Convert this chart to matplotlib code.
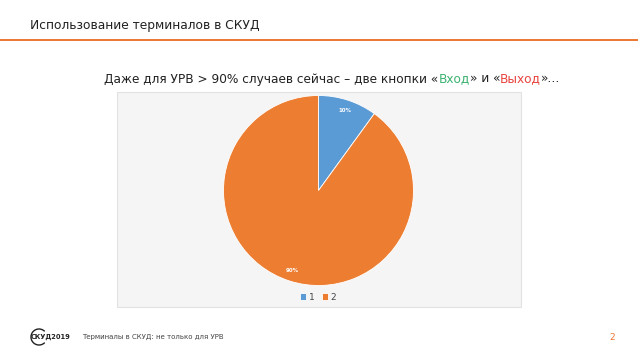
import numpy as np
import matplotlib.pyplot as plt
from matplotlib.patches import Rectangle, Arc

labels = ['1', '2']
values = [10, 90]
pct_labels = ['10%', '90%']
colors = ['#5b9bd5', '#ed7d31']

W, H = 638, 359
fig = plt.figure(figsize=(W / 100, H / 100), dpi=100)
fig.patch.set_facecolor('white')

# header
fig.text(30 / W, 1 - 26 / H, 'Использование терминалов в СКУД', fontsize=8.8,
         color='#222222', va='center', ha='left')
fig.add_artist(plt.Line2D([0, 1], [1 - 39.5 / H, 1 - 39.5 / H], color='#ee7733', lw=1.4))

# subtitle with coloured words
parts = [('Даже для УРВ > 90% случаев сейчас – две кнопки «', '#222222'),
         ('Вход', '#3cb371'), ('» и «', '#222222'), ('Выход', '#e8433f'), ('»…', '#222222')]
fig.canvas.draw()
renderer = fig.canvas.get_renderer()
x_px = 104
for s, c in parts:
    tt = fig.text(x_px / W, 1 - 79 / H, s, fontsize=8.7, color=c, va='center', ha='left')
    x_px += tt.get_window_extent(renderer).width

# chart box
fig.add_artist(Rectangle((117 / W, 1 - 307 / H), (521 - 117) / W, (307 - 92) / H,
                         transform=fig.transFigure, facecolor='#f5f5f5',
                         edgecolor='#e2e2e2', lw=0.8, zorder=0))

# pie
r = 95
ax = fig.add_axes([(318.5 - r) / W, 1 - (190.5 + r) / H, 2 * r / W, 2 * r / H])
wedges, _ = ax.pie(values, colors=colors, startangle=90, counterclock=False,
                   wedgeprops=dict(edgecolor='white', linewidth=0.6))
for w, p in zip(wedges, pct_labels):
    ang = np.deg2rad((w.theta1 + w.theta2) / 2)
    ax.text(0.89 * np.cos(ang), 0.89 * np.sin(ang), p, fontsize=4, color='white',
            ha='center', va='center', fontweight='bold')
ax.set_xlim(-1, 1)
ax.set_ylim(-1, 1)
ax.set_aspect('equal')

# legend
fig.legend(wedges, labels, loc='center', bbox_to_anchor=(318 / W, 1 - 297 / H),
           ncol=2, frameon=False, fontsize=6.5, handlelength=0.7, handleheight=0.7,
           columnspacing=0.8, handletextpad=0.3, labelcolor='#444444')

# footer
fig.text(31 / W, 1 - 337 / H, 'СКУД2019', fontsize=4.8, fontweight='bold',
         color='#222222', va='center', ha='left')
fig.add_artist(Arc((39 / W, 1 - 337 / H), 16 / W, 16 / H, theta1=60, theta2=300,
                   transform=fig.transFigure, color='#222222', lw=1))
fig.text(82 / W, 1 - 337 / H, 'Терминалы в СКУД: не только для УРВ', fontsize=5,
         color='#444444', va='center', ha='left')
fig.text(612 / W, 1 - 337 / H, '2', fontsize=6.5, color='#ee7733', va='center', ha='center')

fig.savefig('out.png', dpi=100)
